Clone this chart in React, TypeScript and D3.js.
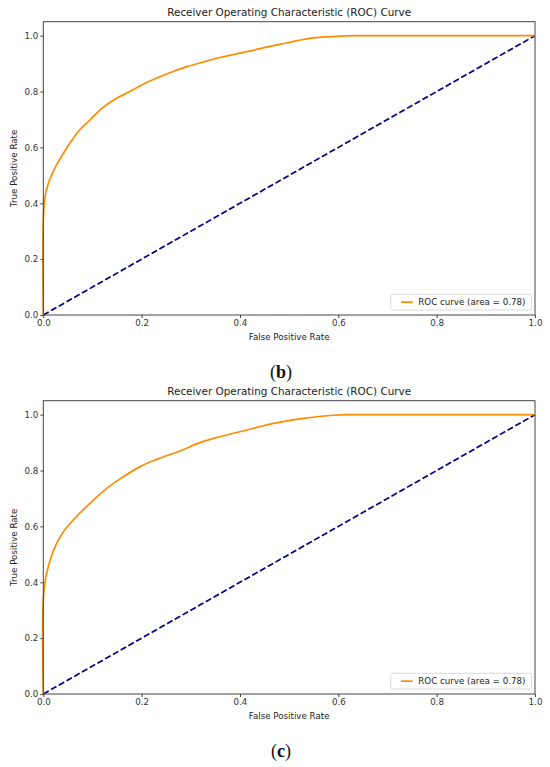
import React, { useRef, useEffect } from "react";
import * as d3 from "d3";

// ROC points
const fprB = [0, 0, 0.0035, 0.01, 0.02, 0.03, 0.041, 0.054, 0.075, 0.095, 0.119, 0.149, 0.176, 0.21, 0.251, 0.292, 0.332, 0.359, 0.414, 0.481, 0.542, 0.58, 0.617, 0.64, 0.7, 1.0];
const tprB = [0, 0.34, 0.424, 0.47, 0.513, 0.547, 0.579, 0.615, 0.665, 0.698, 0.74, 0.776, 0.8, 0.832, 0.863, 0.889, 0.909, 0.922, 0.943, 0.969, 0.99, 0.996, 0.999, 1.0, 1.0, 1.0];

// ROC points
const fprC = [0, 0, 0.007, 0.02, 0.03, 0.041, 0.061, 0.081, 0.109, 0.129, 0.156, 0.197, 0.231, 0.278, 0.319, 0.359, 0.414, 0.468, 0.529, 0.59, 0.63, 0.66, 0.72, 1.0];
const tprC = [0, 0.34, 0.435, 0.51, 0.549, 0.581, 0.623, 0.659, 0.706, 0.736, 0.77, 0.814, 0.84, 0.87, 0.9, 0.921, 0.945, 0.969, 0.987, 0.998, 1.0, 1.0, 1.0, 1.0];

const tickValues = [0, 0.2, 0.4, 0.6, 0.8, 1.0];
const chartTitle = "Receiver Operating Characteristic (ROC) Curve";
const legendLabel = "ROC curve (area = 0.78)";

const FONT = "'DejaVu Sans', sans-serif";

interface PanelProps {
  fpr: number[];
  tpr: number[];
  top: number; // y of the plot frame top
  label: string;
}

const margin = { left: 43.3, right: 15, height: 293.3 };

const RocPanel: React.FC<PanelProps> = ({ fpr, tpr, top, label }) => {
  const gRef = useRef<SVGGElement>(null);

  useEffect(() => {
    if (!gRef.current) return;
    const g = d3.select(gRef.current);
    g.selectAll("*").remove();

    const bottom = top + margin.height;
    const x = d3.scaleLinear().domain([0, 1]).range([margin.left, 550 - margin.right]);
    const y = d3.scaleLinear().domain([0, 1.05]).range([bottom, top]);

    const pts = fpr.map((f, i) => [f, tpr[i]] as [number, number]);

    const line = d3
      .line<[number, number]>()
      .x((d) => x(d[0]))
      .y((d) => y(d[1]));

    // diagonal chance line
    g.append("path")
      .datum([[0, 0], [1, 1]] as [number, number][])
      .attr("d", line)
      .attr("fill", "none")
      .attr("stroke", "#000080")
      .attr("stroke-width", 1.7)
      .attr("stroke-dasharray", "6.2,2.7");

    g.append("path")
      .datum(pts)
      .attr("d", line.curve(d3.curveCatmullRom.alpha(0.5)))
      .attr("fill", "none")
      .attr("stroke", "#ff8c00")
      .attr("stroke-width", 1.7)
      .attr("stroke-linejoin", "round");

    // frame
    g.append("rect")
      .attr("x", x(0))
      .attr("y", top)
      .attr("width", x(1) - x(0))
      .attr("height", bottom - top)
      .attr("fill", "none")
      .attr("stroke", "#444")
      .attr("stroke-width", 1);

    const xAxis = d3
      .axisBottom(x)
      .tickValues(tickValues)
      .tickFormat(d3.format(".1f"))
      .tickSize(3)
      .tickPadding(2);
    const yAxis = d3
      .axisLeft(y)
      .tickValues(tickValues)
      .tickFormat(d3.format(".1f"))
      .tickSize(3)
      .tickPadding(2);

    const gx = g.append("g").attr("transform", `translate(0,${bottom})`).call(xAxis);
    const gy = g.append("g").attr("transform", `translate(${margin.left},0)`).call(yAxis);
    [gx, gy].forEach((ax) => {
      ax.select(".domain").remove();
      ax.selectAll("line").attr("stroke", "#444");
      ax.selectAll("text")
        .attr("font-family", FONT)
        .attr("font-size", 8.7)
        .attr("fill", "#333");
    });

    g.append("text")
      .attr("x", (x(0) + x(1)) / 2)
      .attr("y", top - 6)
      .attr("text-anchor", "middle")
      .attr("font-family", FONT)
      .attr("font-size", 10.4)
      .attr("fill", "#222")
      .text(chartTitle);

    g.append("text")
      .attr("x", (x(0) + x(1)) / 2)
      .attr("y", bottom + 25)
      .attr("text-anchor", "middle")
      .attr("font-family", FONT)
      .attr("font-size", 8.7)
      .attr("fill", "#222")
      .text("False Positive Rate");

    g.append("text")
      .attr("transform", `translate(17,${(top + bottom) / 2}) rotate(-90)`)
      .attr("text-anchor", "middle")
      .attr("font-family", FONT)
      .attr("font-size", 8.7)
      .attr("fill", "#222")
      .text("True Positive Rate");

    // legend, lower right
    const lw = 141;
    const lh = 15.7;
    const lx = x(1) - 3.3 - lw;
    const ly = bottom - 5 - lh;
    g.append("rect")
      .attr("x", lx)
      .attr("y", ly)
      .attr("width", lw)
      .attr("height", lh)
      .attr("rx", 2)
      .attr("fill", "white")
      .attr("fill-opacity", 0.8)
      .attr("stroke", "#d0d0d0")
      .attr("stroke-width", 0.8);
    g.append("line")
      .attr("x1", lx + 10.3)
      .attr("x2", lx + 22)
      .attr("y1", ly + lh / 2)
      .attr("y2", ly + lh / 2)
      .attr("stroke", "#ff8c00")
      .attr("stroke-width", 1.7);
    g.append("text")
      .attr("x", lx + 27.6)
      .attr("y", ly + lh / 2 + 3)
      .attr("font-family", FONT)
      .attr("font-size", 8.7)
      .attr("fill", "#222")
      .text(legendLabel);

    // sub-figure label, e.g. (b)
    const lab = g
      .append("text")
      .attr("x", 281)
      .attr("y", bottom + 63)
      .attr("text-anchor", "middle")
      .attr("font-family", "'Liberation Serif', 'DejaVu Serif', serif")
      .attr("font-size", 18)
      .attr("fill", "#111");
    lab.append("tspan").text("(");
    lab.append("tspan").attr("font-weight", "bold").text(label);
    lab.append("tspan").text(")");
  }, [fpr, tpr, top, label]);

  return <g ref={gRef}></g>;
};

export default function App() {
  return (
    <svg
      width={550}
      height={767}
      style={{ position: "absolute", left: 0, top: 0, background: "white" }}
    >
      <RocPanel fpr={fprB} tpr={tprB} top={21.7} label="b" />
      <RocPanel fpr={fprC} tpr={tprC} top={400.7} label="c" />
    </svg>
  );
}
